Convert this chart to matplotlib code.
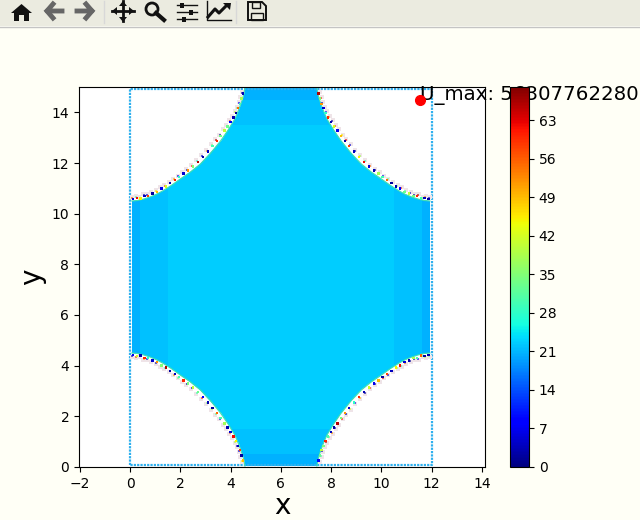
import matplotlib
matplotlib.use('Agg')
import matplotlib.pyplot as plt
from matplotlib.patches import Polygon, Rectangle, Circle
import numpy as np

# band edges of the field and the value in each band
x_edges = [0, 0.4, 1.5, 10.5, 11.6, 12]
y_edges = [0, 0.5, 1.5, 13.5, 14.5, 15]
field = [[20.6, 20.6, 20.6, 20.6, 20.6],
         [20.6, 21.8, 21.8, 21.8, 20.6],
         [20.6, 21.8, 22.6, 21.8, 20.6],
         [20.6, 21.8, 21.8, 21.8, 20.6],
         [20.6, 20.6, 20.6, 20.6, 20.6]]

# lower left corner arc, the other three are mirrored from it
arc_x = [0.07, 0.3, 0.55, 0.8, 1.05, 1.3, 1.65, 2.0, 2.4, 2.8, 3.2, 3.6, 3.9, 4.17, 4.32, 4.45, 4.52, 4.57]
arc_y = [4.5, 4.48, 4.42, 4.34, 4.24, 4.1, 3.88, 3.63, 3.36, 3.04, 2.62, 2.13, 1.7, 1.26, 0.9, 0.55, 0.3, 0.04]

# edge speckle read along the arc
speck_x = [0.12, 0.28, 0.42, 0.58, 0.72, 0.9, 1.08, 1.25, 1.42, 1.6, 1.78, 1.95, 2.12, 2.3, 2.5, 2.7, 2.9, 3.1,
           3.28, 3.45, 3.6, 3.75, 3.88, 4.0, 4.12, 4.22, 4.3, 4.38, 4.44, 4.5]
speck_y = [4.42, 4.38, 4.4, 4.3, 4.3, 4.2, 4.14, 4.0, 3.92, 3.8, 3.68, 3.56, 3.42, 3.3, 3.14, 2.96, 2.76, 2.54,
           2.32, 2.12, 1.94, 1.72, 1.56, 1.38, 1.2, 1.02, 0.84, 0.66, 0.46, 0.26]
speck_v = [7, 42, 3, 60, 28, 5, 52, 35, 66, 2, 4, 30, 60, 34, 40, 33, 8, 3,
           2, 55, 30, 38, 3, 5, 62, 45, 4, 58, 2, 49]

cbar_ticks = [0, 7, 14, 21, 28, 35, 42, 49, 56, 63]
x_ticks = [-2, 0, 2, 4, 6, 8, 10, 12, 14]
y_ticks = [0, 2, 4, 6, 8, 10, 12, 14]
dot_x = 11.53
dot_y = 14.47
label_text = 'U_max: 56307762280'

bg = '#fffff6'
fig = plt.figure(figsize=(6.4, 5.2), dpi=100, facecolor=bg)
ax = fig.add_axes([79 / 640, 53 / 520, 406 / 640, 380 / 520])
cax = fig.add_axes([510 / 640, 53 / 520, 19 / 640, 380 / 520])

arc_x = np.array(arc_x)
arc_y = np.array(arc_y)
speck_x = np.array(speck_x)
speck_y = np.array(speck_y)

# outline of the region, going round the four corners
outline = np.concatenate([
    np.column_stack([arc_x[::-1], arc_y[::-1]]),
    np.column_stack([arc_x, 15 - arc_y]),
    np.column_stack([12 - arc_x[::-1], 15 - arc_y[::-1]]),
    np.column_stack([12 - arc_x, arc_y]),
])

mesh = ax.pcolormesh(x_edges, y_edges, field, cmap='jet', vmin=0, vmax=69)
clip = Polygon(outline, closed=True, transform=ax.transData)
mesh.set_clip_path(clip)

# thin dotted frame of the domain
ax.plot([0, 0, 12, 12, 0], [0.06, 14.94, 14.94, 0.06, 0.06], color='#2fb0ee', lw=1.6, ls=(0, (1, 0.5)))

# speckle on all four arcs, pale halo on the white side, green rim on the inside
for flip_x, flip_y, shift in [(0, 0, 0), (0, 1, 7), (1, 0, 13), (1, 1, 21)]:
    sx = 12 - speck_x if flip_x else speck_x
    sy = 15 - speck_y if flip_y else speck_y
    ox = 0.06 if flip_x else -0.06
    oy = 0.06 if flip_y else -0.06
    ax.scatter(sx + ox, sy + oy, color='#efe4e8', s=6, marker='s', linewidths=0, zorder=2)
    ax.scatter(sx + ox / 2, sy + oy / 2, c=np.roll(speck_v, shift + 4), cmap='jet', vmin=0, vmax=69, s=2, marker='s', linewidths=0, alpha=0.6, zorder=3)
    ax.scatter(sx, sy, c=np.roll(speck_v, shift), cmap='jet', vmin=0, vmax=69, s=3, marker='s', linewidths=0, zorder=4)
    ax.plot(12 - arc_x if flip_x else arc_x, 15 - arc_y if flip_y else arc_y, color='#3fe0b0', lw=0.8, zorder=2)

ax.plot(dot_x, dot_y, 'o', color='red', ms=7, zorder=5)
ax.text(dot_x, dot_y, label_text, fontsize=14.2, va='baseline', ha='left', clip_on=False)

ax.set_xlim(-2.03, 14.12)
ax.set_ylim(0, 15)
ax.set_xticks(x_ticks)
ax.set_yticks(y_ticks)
ax.set_xlabel('x', fontsize=20, labelpad=1)
ax.set_ylabel('y', fontsize=20)

cb = fig.colorbar(mesh, cax=cax)
cb.set_ticks(cbar_ticks)

# toolbar drawn on top in pixel coordinates
tb = fig.add_axes([0, 0, 1, 1], facecolor='none')
tb.set_xlim(0, 640)
tb.set_ylim(520, 0)
tb.axis('off')
tb.add_patch(Rectangle((0, 0), 640, 26, color='#ebebe0', lw=0))
tb.plot([0, 640], [26.5, 26.5], color='#c4c4c4', lw=1)
for px in [104, 236]:
    tb.plot([px, px], [1, 23], color='#d8d8d8', lw=1)
dark = '#111111'
grey = '#666666'
# home
tb.add_patch(Polygon([[11, 13], [21.5, 4], [32, 13], [29, 13], [29, 21], [24, 21], [24, 15], [19, 15], [19, 21], [14, 21], [14, 13]], color=dark, lw=0))
# back and forward
tb.plot([62, 47, 53], [11, 11, 4], color=grey, lw=3.5)
tb.plot([47, 53], [11, 18], color=grey, lw=3.5)
tb.plot([77, 92, 86], [11, 11, 4], color=grey, lw=3.5)
tb.plot([92, 86], [11, 18], color=grey, lw=3.5)
# move
tb.plot([112, 134], [11, 11], color=dark, lw=2)
tb.plot([123, 123], [1, 21], color=dark, lw=2)
tb.add_patch(Polygon([[112, 11], [117, 7], [117, 15]], color=dark, lw=0))
tb.add_patch(Polygon([[134, 11], [129, 7], [129, 15]], color=dark, lw=0))
tb.add_patch(Polygon([[123, 1], [119, 6], [127, 6]], color=dark, lw=0))
tb.add_patch(Polygon([[123, 22], [119, 17], [127, 17]], color=dark, lw=0))
# zoom
tb.add_patch(Circle((152, 9), 6, fill=False, ec=dark, lw=2))
tb.plot([156, 164], [13, 20], color=dark, lw=3)
# sliders
for yy, kx in [(5, 182), (12, 191), (19, 184)]:
    tb.plot([177, 197], [yy, yy], color=dark, lw=1)
    tb.add_patch(Rectangle((kx - 2, yy - 2.5), 4, 5, color=dark, lw=0))
# axes editor
tb.plot([207, 207, 231], [1, 20, 20], color=dark, lw=1)
tb.plot([208, 215, 219, 227], [17, 9, 13, 5], color=dark, lw=2.2)
tb.add_patch(Polygon([[223, 3], [231, 3], [230, 10]], color=dark, lw=0))
# save
tb.add_patch(Polygon([[248, 2], [262, 2], [266, 6], [266, 20], [248, 20]], closed=True, fill=False, ec=dark, lw=1.4))
tb.add_patch(Rectangle((252, 2), 8, 6, fill=False, ec=dark, lw=1))
tb.add_patch(Rectangle((251, 13), 12, 7, fill=False, ec=dark, lw=1))

fig.savefig('out.png', dpi=100, facecolor=bg)
